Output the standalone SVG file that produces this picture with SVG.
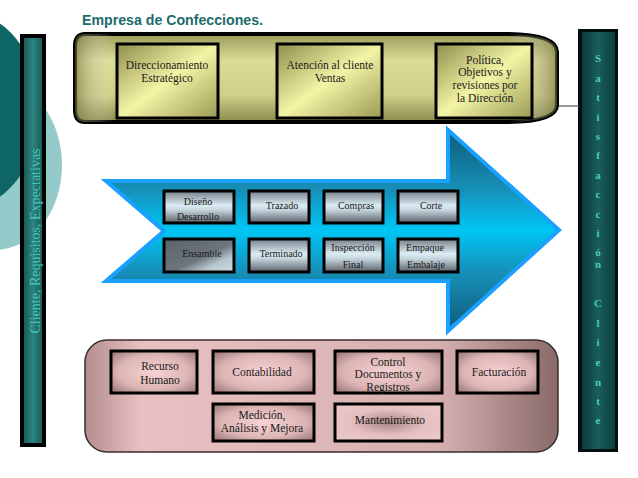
<svg xmlns="http://www.w3.org/2000/svg" width="638" height="478" viewBox="0 0 638 478">
<defs>
<linearGradient id="gCont1" x1="0" y1="0" x2="0" y2="1">
<stop offset="0" stop-color="#9c9c5c"/>
<stop offset="0.3" stop-color="#dcdc96"/>
<stop offset="0.7" stop-color="#cfcf88"/>
<stop offset="1" stop-color="#8a8a4c"/>
</linearGradient>
<linearGradient id="gContSide" x1="0" y1="0" x2="1" y2="0">
<stop offset="0" stop-color="#6e6e38" stop-opacity="0.6"/>
<stop offset="0.08" stop-color="#ffffff" stop-opacity="0"/>
<stop offset="0.9" stop-color="#ffffff" stop-opacity="0"/>
<stop offset="1" stop-color="#6e6e38" stop-opacity="0.6"/>
</linearGradient>
<linearGradient id="gOlive" x1="0" y1="0" x2="1" y2="1">
<stop offset="0" stop-color="#8e8e4c"/>
<stop offset="0.5" stop-color="#f4f4a6"/>
<stop offset="1" stop-color="#9a9a54"/>
</linearGradient>
<linearGradient id="gArrow" x1="0" y1="128" x2="0" y2="333" gradientUnits="userSpaceOnUse">
<stop offset="0" stop-color="#0f5a78"/>
<stop offset="0.3" stop-color="#1690b8"/>
<stop offset="0.5" stop-color="#00c6f6"/>
<stop offset="0.7" stop-color="#1690b8"/>
<stop offset="1" stop-color="#0f5a78"/>
</linearGradient>
<linearGradient id="gProc" x1="0" y1="0" x2="0" y2="1">
<stop offset="0" stop-color="#76808a"/>
<stop offset="0.45" stop-color="#dcecf4"/>
<stop offset="0.6" stop-color="#c4d4dc"/>
<stop offset="1" stop-color="#5a6068"/>
</linearGradient>
<linearGradient id="gProcDark" x1="0" y1="0" x2="1" y2="1">
<stop offset="0" stop-color="#5c636b"/>
<stop offset="0.55" stop-color="#6c747c"/>
<stop offset="0.75" stop-color="#b6c6ce"/>
<stop offset="1" stop-color="#d2e0e8"/>
</linearGradient>
<linearGradient id="gPinkCont" x1="0" y1="0" x2="1" y2="0">
<stop offset="0" stop-color="#b48e8e"/>
<stop offset="0.12" stop-color="#e8c2c2"/>
<stop offset="0.75" stop-color="#d6b0b0"/>
<stop offset="1" stop-color="#8a6a6a"/>
</linearGradient>
<radialGradient id="gPink" cx="0.5" cy="0.5" r="0.7">
<stop offset="0" stop-color="#f6d2d2"/>
<stop offset="0.6" stop-color="#dcb4b4"/>
<stop offset="1" stop-color="#947272"/>
</radialGradient>
<radialGradient id="gPinkInv" cx="0.5" cy="0.5" r="0.7">
<stop offset="0" stop-color="#a88484"/>
<stop offset="0.5" stop-color="#e6c0c0"/>
<stop offset="1" stop-color="#eccaca"/>
</radialGradient>
<linearGradient id="gLeftBar" x1="0" y1="0" x2="1" y2="0">
<stop offset="0" stop-color="#1a5c5a"/>
<stop offset="0.5" stop-color="#2c8480"/>
<stop offset="1" stop-color="#1a5c5a"/>
</linearGradient>
<linearGradient id="gRightBar" x1="0" y1="0" x2="1" y2="0">
<stop offset="0" stop-color="#0a3c3c"/>
<stop offset="0.5" stop-color="#1a5e5e"/>
<stop offset="1" stop-color="#0a3c3c"/>
</linearGradient>
</defs>
<style>
.t{font-family:"Liberation Serif","Times New Roman",serif;fill:#1a1a1a;text-anchor:middle}
.s{font-size:10px}
.m{font-size:11.5px}
.box{stroke:#000;stroke-width:3}
.vl{font-family:"Liberation Serif","Times New Roman",serif;font-size:11px;font-weight:bold;fill:#4ccabb;text-anchor:middle}
</style>
<rect width="638" height="478" fill="#ffffff"/>

<g id="background">
<ellipse cx="-5" cy="165" rx="67" ry="85" fill="#94caca"/>
<ellipse cx="-40" cy="110" rx="80" ry="100" fill="#0e6664"/>
</g>

<text x="82" y="25" font-family="'Liberation Sans',Arial,sans-serif" font-size="15" font-weight="bold" fill="#1b6b6b" textLength="181" lengthAdjust="spacingAndGlyphs">Empresa de Confecciones.</text>

<g id="left-bar">
<rect x="20" y="34" width="26" height="413" fill="#000"/>
<rect x="24" y="38" width="18" height="405" fill="url(#gLeftBar)"/>
<text transform="translate(40,241) rotate(-90)" font-family="'Liberation Serif','Times New Roman',serif" font-size="14" fill="#48c4b8" text-anchor="middle">Cliente, Requisitos, Expectativas</text>
</g>

<g id="right-bar">
<rect x="578" y="29" width="40" height="423" fill="#050f0f"/>
<rect x="582" y="32" width="33" height="417" fill="url(#gRightBar)"/>
<text class="vl" x="598" y="62">S</text>
<text class="vl" x="598" y="82">a</text>
<text class="vl" x="598" y="101">t</text>
<text class="vl" x="598" y="121">i</text>
<text class="vl" x="598" y="140">s</text>
<text class="vl" x="598" y="159">f</text>
<text class="vl" x="598" y="179">a</text>
<text class="vl" x="598" y="198">c</text>
<text class="vl" x="598" y="218">c</text>
<text class="vl" x="598" y="237">i</text>
<text class="vl" x="598" y="256">ó</text>
<text class="vl" x="598" y="268">n</text>
<text class="vl" x="598" y="307">C</text>
<text class="vl" x="598" y="327">l</text>
<text class="vl" x="598" y="346">i</text>
<text class="vl" x="598" y="366">e</text>
<text class="vl" x="598" y="386">n</text>
<text class="vl" x="598" y="405">t</text>
<text class="vl" x="598" y="424">e</text>
</g>

<g id="connectors">
<line x1="558" y1="106" x2="579" y2="106" stroke="#555" stroke-width="1.2"/>
</g>

<g id="top-container">
<path d="M85,34 H506 Q557,34 557,52 V105 Q557,122 506,122 H85 Q75,122 75,110 V46 Q75,34 85,34 Z" fill="url(#gCont1)" stroke="#000" stroke-width="4"/>
<path d="M85,34 H506 Q557,34 557,52 V105 Q557,122 506,122 H85 Q75,122 75,110 V46 Q75,34 85,34 Z" fill="url(#gContSide)"/>
</g>
<g id="n-direccionamiento">
<rect class="box" x="117" y="44" width="101" height="74" fill="url(#gOlive)"/>
<text class="t m" x="167" y="69">Direccionamiento</text>
<text class="t m" x="167" y="82">Estratégico</text>
</g>
<g id="n-atencion">
<rect class="box" x="277" y="44" width="105" height="74" fill="url(#gOlive)"/>
<text class="t m" x="330" y="69">Atención al cliente</text>
<text class="t m" x="330" y="82">Ventas</text>
</g>
<g id="n-politica">
<rect class="box" x="436" y="44" width="96" height="74" fill="url(#gOlive)"/>
<text class="t m" x="485" y="64">Política,</text>
<text class="t m" x="485" y="76">Objetivos y</text>
<text class="t m" x="485" y="89">revisiones por</text>
<text class="t m" x="485" y="102">la Dirección</text>
</g>

<g id="arrow">
<path d="M106,181 L448,181 L448,130 L559,230 L448,331 L448,281 L106,281 L164,231 Z" fill="url(#gArrow)" stroke="#1aa0ff" stroke-width="4" stroke-linejoin="miter"/>
</g>
<g id="n-diseno">
<rect class="box" x="164" y="191" width="70" height="32" fill="url(#gProc)"/>
<text class="t s" x="198" y="205">Diseño</text>
<text class="t s" x="198" y="220">Desarrollo</text>
</g>
<g id="n-trazado">
<rect class="box" x="249" y="191" width="60" height="32" fill="url(#gProc)"/>
<text class="t s" x="282" y="209">Trazado</text>
</g>
<g id="n-compras">
<rect class="box" x="324" y="191" width="59" height="32" fill="url(#gProc)"/>
<text class="t s" x="356" y="209">Compras</text>
</g>
<g id="n-corte">
<rect class="box" x="398" y="191" width="60" height="32" fill="url(#gProc)"/>
<text class="t s" x="431" y="209">Corte</text>
</g>
<g id="n-ensamble">
<rect class="box" x="164" y="239" width="70" height="33" fill="url(#gProcDark)"/>
<text class="t s" x="202" y="257">Ensamble</text>
</g>
<g id="n-terminado">
<rect class="box" x="249" y="239" width="60" height="33" fill="url(#gProc)"/>
<text class="t s" x="281" y="257">Terminado</text>
</g>
<g id="n-inspeccion">
<rect class="box" x="324" y="239" width="59" height="33" fill="url(#gProc)"/>
<text class="t s" x="353" y="251">Inspección</text>
<text class="t s" x="353" y="268">Final</text>
</g>
<g id="n-empaque">
<rect class="box" x="398" y="239" width="60" height="33" fill="url(#gProc)"/>
<text class="t s" x="425" y="251">Empaque</text>
<text class="t s" x="426" y="268">Embalaje</text>
</g>

<g id="bottom-container">
<rect x="85" y="340" width="473" height="112" rx="22" ry="22" fill="url(#gPinkCont)" stroke="#3a2e2e" stroke-width="1.5"/>
</g>
<g id="n-recurso">
<rect class="box" x="111" y="351" width="86" height="42" fill="url(#gPink)"/>
<text class="t m" x="160" y="370">Recurso</text>
<text class="t m" x="160" y="384">Humano</text>
</g>
<g id="n-contabilidad">
<rect class="box" x="213" y="351" width="101" height="42" fill="url(#gPink)"/>
<text class="t m" x="262" y="376">Contabilidad</text>
</g>
<g id="n-control">
<rect class="box" x="335" y="351" width="107" height="42" fill="url(#gPink)"/>
<text class="t m" x="388" y="366">Control</text>
<text class="t m" x="388" y="378">Documentos y</text>
<text class="t m" x="388" y="391">Registros</text>
</g>
<g id="n-facturacion">
<rect class="box" x="457" y="351" width="81" height="42" fill="url(#gPink)"/>
<text class="t m" x="499" y="376">Facturación</text>
</g>
<g id="n-medicion">
<rect class="box" x="213" y="404" width="101" height="37" fill="url(#gPink)"/>
<text class="t m" x="262" y="419">Medición,</text>
<text class="t m" x="262" y="432">Análisis y Mejora</text>
</g>
<g id="n-mantenimiento">
<rect class="box" x="335" y="404" width="107" height="37" fill="url(#gPinkInv)"/>
<text class="t m" x="390" y="424">Mantenimiento</text>
</g>
</svg>
